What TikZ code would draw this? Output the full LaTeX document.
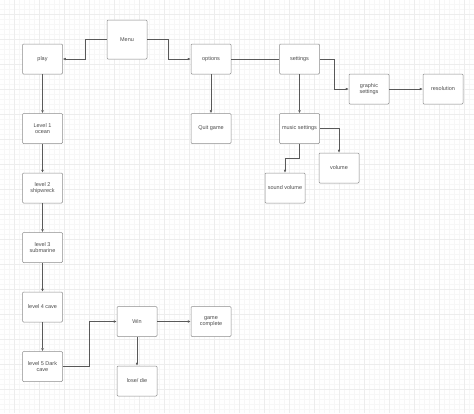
\documentclass[tikz,border=0pt]{standalone}
\usepackage{fontspec}
\setmainfont{Liberation Sans}
\usetikzlibrary{positioning,arrows.meta}

\begin{document}
\begin{tikzpicture}[x=1pt,y=-1pt,>={Latex[length=3pt,width=2.6pt]},node distance=59.5pt,on grid,
	box/.style={draw=black!45,rounded corners=1pt,minimum width=40pt,minimum height=30pt,align=center,
		font=\fontsize{5.5}{6.5}\selectfont,text=black!70,fill=white,line width=0.5pt,inner sep=1pt},
	link/.style={draw=black!65,line width=0.45pt},
	gridmajor/.style={draw=black!7,line width=0.4pt},
	gridminor/.style={draw=black!3,line width=0.3pt}]

	\useasboundingbox (0,0) rectangle (474,413);
	\fill[white] (0,0) rectangle (474,413);
	% background grid
	\foreach \x in {4,9,...,474} \draw[gridminor] (\x,0) -- (\x,413);
	\foreach \y in {4,9,...,413} \draw[gridminor] (0,\y) -- (474,\y);
	\foreach \x in {14,39,...,464} \draw[gridmajor] (\x,0) -- (\x,413);
	\foreach \y in {14,39,...,414} \draw[gridmajor] (0,\y) -- (474,\y);

	\node[box,minimum height=39pt] (menu) at (127,39.5) {Menu};
	\node[box] (play) at (42.5,59) {play};
	\node[box] (options) at (211,59) {options};
	\node[box] (settings) at (299.5,59) {settings};
	\node[box] (graphic) at (369,89) {graphic\\settings};
	\node[box] (resolution) at (443,89) {resolution};
	\node[box, below = 69.5pt of options] (quit) {Quit game};
	\node[box, below = 69.5pt of settings] (music) {music settings};
	\node[box] (volume) at (339,168) {volume};
	\node[box] (sound) at (285,188) {sound volume};

	\node[box, below = 69.5pt of play] (lvl1) {Level 1\\ocean};
	\node[box, below = of lvl1] (lvl2) {level 2\\shipwreck};
	\node[box, below = of lvl2] (lvl3) {level 3\\submarine};
	\node[box, below = of lvl3] (lvl4) {level 4 cave};
	\node[box, below = of lvl4] (lvl5) {level 5 Dark\\cave};
	\node[box] (win) at (137,321.5) {Win};
	\node[box, right = 74pt of win] (complete) {game\\complete};
	\node[box, below = of win] (lose) {lose/ die};

	\draw[link,->] (menu.west) -- ++(-22,0) |- (play.east);
	\draw[link,->] (menu.east) -- ++(21,0) |- (options.west);
	\draw[link] (options) -- (settings);
	\draw[link,->] (options) -- (quit);
	\draw[link,->] (settings.east) -- ++(14.5,0) |- (graphic.west);
	\draw[link,->] (graphic) -- (resolution);
	\draw[link,->] (settings) -- (music);
	\draw[link,->] (music.east) -| (volume.north);
	\draw[link,->] (music.south) -- ++(0,14.5) -| (sound.north);

	\draw[link,->] (play) -- (lvl1);
	\draw[link,->] (lvl1) -- (lvl2);
	\draw[link,->] (lvl2) -- (lvl3);
	\draw[link,->] (lvl3) -- (lvl4);
	\draw[link,->] (lvl4) -- (lvl5);
	\draw[link,->] (lvl5.east) -- ++(26.5,0) |- (win.west);
	\draw[link,->] (win) -- (complete);
	\draw[link,->] (win) -- (lose);

\end{tikzpicture}
\end{document}
